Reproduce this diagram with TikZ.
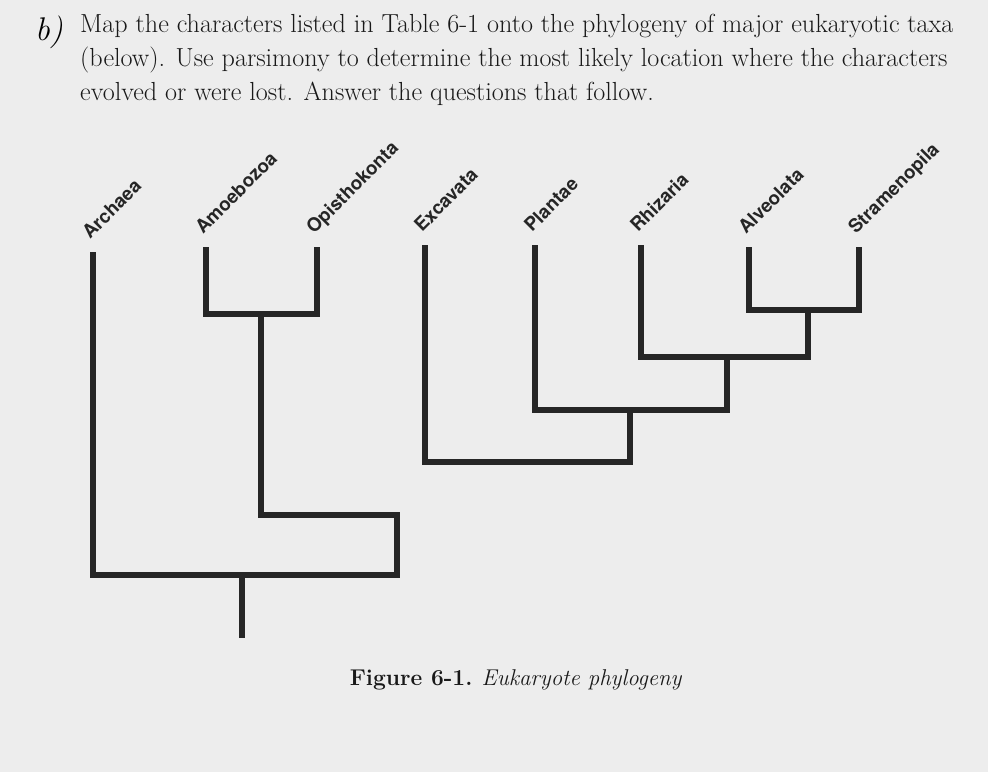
\documentclass[tikz,border=0pt]{standalone}
\usepackage{fontspec}
\newfontfamily\lblfont{TeX Gyre Heros}
\begin{document}
\begin{tikzpicture}[x=0.03cm,y=-0.03cm,
  br/.style={line width=4.3pt,color=black!85,line cap=rect},
  lbl/.style={font=\lblfont\bfseries\fontsize{16}{18}\selectfont,rotate=45,anchor=base west,inner sep=0pt,text=black!85},
  body/.style={font=\fontsize{22.3}{26}\selectfont,anchor=base west,inner sep=0pt,text=black!90}]
\fill[black!7] (0,0) rectangle (988,772);
\useasboundingbox (0,0) rectangle (988,772);
% text
\node[font=\fontsize{28}{30}\selectfont\itshape,anchor=base west,inner sep=0pt] (b) at (35,40) {b)};
\node[body] (t1) at (80,32) {Map the characters listed in Table 6-1 onto the phylogeny of major eukaryotic taxa};
\node[body] (t2) at (80,66) {(below). Use parsimony to determine the most likely location where the characters};
\node[body] (t3) at (80,100) {evolved or were lost. Answer the questions that follow.};
\node[font=\fontsize{19.5}{22}\selectfont,anchor=base,inner sep=0pt,text=black!90] (cap) at (516,685) {\textbf{Figure 6-1.} \textit{Eukaryote phylogeny}};
% coordinates
\coordinate (ar) at (93,255); \coordinate (am) at (206,250); \coordinate (op) at (317,250);
\coordinate (ex) at (425,248); \coordinate (pl) at (535,248); \coordinate (rh) at (641,248);
\coordinate (al) at (749,250); \coordinate (st) at (859,250);
\coordinate (root) at (242,635);
% labels
\node[lbl] (lar) at (90,240) {Archaea};
\node[lbl] (lam) at (203,235) {Amoebozoa};
\node[lbl] (lop) at (314,235) {Opisthokonta};
\node[lbl] (lex) at (422,233) {Excavata};
\node[lbl] (lpl) at (532,233) {Plantae};
\node[lbl] (lrh) at (638,233) {Rhizaria};
\node[lbl] (lal) at (746,235) {Alveolata};
\node[lbl] (lst) at (856,235) {Stramenopila};
% tree
\draw[br] (al) |- (804,310) -| (st);
\draw[br] (rh) |- (808,357) -- (808,310);
\draw[br] (pl) |- (727,410) -- (727,357);
\draw[br] (ex) |- (630,462) -- (630,410);
\draw[br] (am) |- (261,314) -| (op);
\draw[br] (261,314) |- (397,515) -- (397,575);
\draw[br] (ar) |- (397,575);
\draw[br] (root) -- (242,575);
\end{tikzpicture}
\end{document}
